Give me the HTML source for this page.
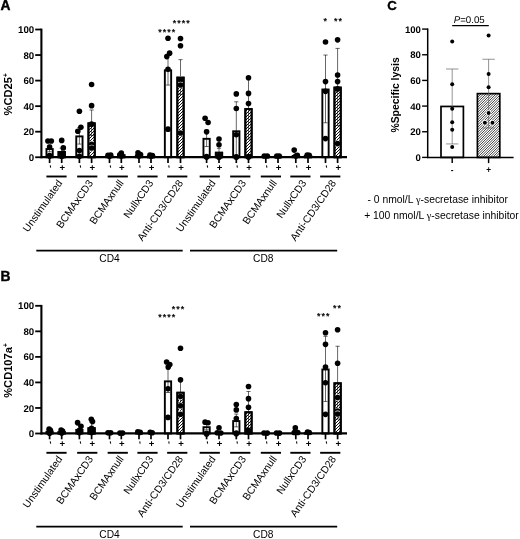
<!DOCTYPE html>
<html lang="en"><head><meta charset="utf-8"><title>Figure</title>
<style>
html,body{margin:0;padding:0;background:#fff}
body{width:520px;height:539px;overflow:hidden}
svg{display:block;font-family:'Liberation Sans', Arial, sans-serif;fill:#000}
.gp{text-rendering:geometricPrecision}
</style></head><body>
<svg width="520" height="539" viewBox="0 0 520 539">
<rect width="520" height="539" fill="#fff"/>
<text x="0.4" y="9.8" font-size="13.8" font-weight="700" stroke="#000" stroke-width="0.4">A</text>
<text transform="translate(11.8,94.3) rotate(-90) scale(0.95,1)" text-anchor="middle" font-size="11.7" font-weight="700">%CD25<tspan dy="-3.9" font-size="7">+</tspan></text>
<rect x="46.45" y="149.04" width="6.3" height="8.21" fill="#fff" stroke="#000" stroke-width="1.9"/>
<path d="M49.6 145.11V151.76M47.5 145.11h4.2M47.5 151.76h4.2" stroke="#000" stroke-width="0.6" fill="none"/>
<circle cx="47.90" cy="141.03" r="2.8"/>
<circle cx="51.30" cy="141.03" r="2.8"/>
<circle cx="49.60" cy="147.03" r="2.8"/>
<circle cx="49.60" cy="155.46" r="2.8"/>
<circle cx="49.60" cy="156.10" r="2.8"/>
<clipPath id="c1"><rect x="58.55" y="151.97" width="6.30" height="5.28"/></clipPath>
<rect x="58.55" y="151.97" width="6.30" height="5.28" fill="#fff"/>
<path clip-path="url(#c1)" d="M57.55 149.45L65.85 141.15M57.55 152.45L65.85 144.15M57.55 155.45L65.85 147.15M57.55 158.45L65.85 150.15M57.55 161.45L65.85 153.15M57.55 164.45L65.85 156.15M57.55 167.45L65.85 159.15" stroke="#000" stroke-width="0.95" fill="none"/>
<rect x="58.55" y="151.97" width="6.3" height="5.28" fill="none" stroke="#000" stroke-width="1.9"/>
<path d="M61.7 148.18V154.57M59.6 148.18h4.2M59.6 154.57h4.2" stroke="#000" stroke-width="0.6" fill="none"/>
<circle cx="61.70" cy="140.39" r="2.8"/>
<circle cx="63.30" cy="147.92" r="2.8"/>
<circle cx="61.70" cy="154.69" r="2.8"/>
<circle cx="61.70" cy="155.97" r="2.8"/>
<circle cx="61.70" cy="156.23" r="2.8"/>
<rect x="58.55" y="151.97" width="6.3" height="5.28" fill="none" stroke="#000" stroke-width="1.9"/>
<rect x="76.25" y="136.39" width="6.3" height="20.86" fill="#fff" stroke="#000" stroke-width="1.9"/>
<path d="M79.4 127.48V144.09M77.30000000000001 127.48h4.2M77.30000000000001 144.09h4.2" stroke="#000" stroke-width="0.6" fill="none"/>
<circle cx="79.40" cy="111.26" r="2.8"/>
<circle cx="80.90" cy="127.36" r="2.8"/>
<circle cx="77.80" cy="131.19" r="2.8"/>
<circle cx="79.40" cy="150.61" r="2.8"/>
<circle cx="79.40" cy="156.23" r="2.8"/>
<clipPath id="c2"><rect x="88.45" y="123.36" width="6.30" height="33.89"/></clipPath>
<rect x="88.45" y="123.36" width="6.30" height="33.89" fill="#fff"/>
<path clip-path="url(#c2)" d="M87.45 119.55L95.75 111.25M87.45 122.55L95.75 114.25M87.45 125.55L95.75 117.25M87.45 128.55L95.75 120.25M87.45 131.55L95.75 123.25M87.45 134.55L95.75 126.25M87.45 137.55L95.75 129.25M87.45 140.55L95.75 132.25M87.45 143.55L95.75 135.25M87.45 146.55L95.75 138.25M87.45 149.55L95.75 141.25M87.45 152.55L95.75 144.25M87.45 155.55L95.75 147.25M87.45 158.55L95.75 150.25M87.45 161.55L95.75 153.25M87.45 164.55L95.75 156.25" stroke="#000" stroke-width="0.95" fill="none"/>
<rect x="88.45" y="123.36" width="6.3" height="33.89" fill="none" stroke="#000" stroke-width="1.9"/>
<path d="M91.6 109.98V135.53M89.5 109.98h4.2M89.5 135.53h4.2" stroke="#000" stroke-width="0.6" fill="none"/>
<circle cx="91.60" cy="84.43" r="2.8"/>
<circle cx="91.60" cy="105.64" r="2.8"/>
<circle cx="91.60" cy="124.16" r="2.8"/>
<circle cx="91.60" cy="144.22" r="2.8" stroke="#fff" stroke-width="1.1" paint-order="stroke"/>
<circle cx="91.60" cy="148.05" r="2.8" stroke="#fff" stroke-width="1.1" paint-order="stroke"/>
<rect x="88.45" y="123.36" width="6.3" height="33.89" fill="none" stroke="#000" stroke-width="1.9"/>
<rect x="106.35" y="156.57" width="6.3" height="0.68" fill="#fff" stroke="#000" stroke-width="1.9"/>
<circle cx="108.00" cy="155.33" r="2.8"/>
<circle cx="110.70" cy="154.95" r="2.8"/>
<circle cx="109.50" cy="156.23" r="2.8"/>
<clipPath id="c3"><rect x="118.15" y="155.29" width="6.30" height="1.96"/></clipPath>
<rect x="118.15" y="155.29" width="6.30" height="1.96" fill="#fff"/>
<path clip-path="url(#c3)" d="M117.15 152.85L125.45 144.55M117.15 155.85L125.45 147.55M117.15 158.85L125.45 150.55M117.15 161.85L125.45 153.55M117.15 164.85L125.45 156.55" stroke="#000" stroke-width="0.95" fill="none"/>
<rect x="118.15" y="155.29" width="6.3" height="1.96" fill="none" stroke="#000" stroke-width="1.9"/>
<circle cx="121.30" cy="153.16" r="2.8"/>
<circle cx="119.80" cy="154.69" r="2.8"/>
<circle cx="121.30" cy="155.97" r="2.8"/>
<rect x="118.15" y="155.29" width="6.3" height="1.96" fill="none" stroke="#000" stroke-width="1.9"/>
<rect x="135.85" y="155.29" width="6.3" height="1.96" fill="#fff" stroke="#000" stroke-width="1.9"/>
<circle cx="138.00" cy="152.78" r="2.8"/>
<circle cx="140.50" cy="154.44" r="2.8"/>
<circle cx="139.00" cy="155.97" r="2.8"/>
<clipPath id="c4"><rect x="147.85" y="156.32" width="6.30" height="0.93"/></clipPath>
<rect x="147.85" y="156.32" width="6.30" height="0.93" fill="#fff"/>
<path clip-path="url(#c4)" d="M146.85 153.15L155.15 144.85M146.85 156.15L155.15 147.85M146.85 159.15L155.15 150.85M146.85 162.15L155.15 153.85M146.85 165.15L155.15 156.85" stroke="#000" stroke-width="0.95" fill="none"/>
<rect x="147.85" y="156.32" width="6.3" height="0.93" fill="none" stroke="#000" stroke-width="1.9"/>
<circle cx="150.00" cy="154.95" r="2.8"/>
<circle cx="152.40" cy="155.46" r="2.8"/>
<circle cx="151.00" cy="156.23" r="2.8"/>
<rect x="147.85" y="156.32" width="6.3" height="0.93" fill="none" stroke="#000" stroke-width="1.9"/>
<rect x="164.85" y="70.34" width="6.3" height="86.91" fill="#fff" stroke="#000" stroke-width="1.9"/>
<path d="M168 54.41V85.07M165.9 54.41h4.2M165.9 85.07h4.2" stroke="#000" stroke-width="0.6" fill="none"/>
<circle cx="168.00" cy="38.19" r="2.8"/>
<circle cx="169.60" cy="53.13" r="2.8"/>
<circle cx="166.80" cy="56.58" r="2.8"/>
<circle cx="168.00" cy="69.36" r="2.8"/>
<circle cx="168.00" cy="129.15" r="2.8"/>
<clipPath id="c5"><rect x="177.35" y="77.62" width="6.30" height="79.63"/></clipPath>
<rect x="177.35" y="77.62" width="6.30" height="79.63" fill="#fff"/>
<path clip-path="url(#c5)" d="M176.35 72.65L184.65 64.35M176.35 75.65L184.65 67.35M176.35 78.65L184.65 70.35M176.35 81.65L184.65 73.35M176.35 84.65L184.65 76.35M176.35 87.65L184.65 79.35M176.35 90.65L184.65 82.35M176.35 93.65L184.65 85.35M176.35 96.65L184.65 88.35M176.35 99.65L184.65 91.35M176.35 102.65L184.65 94.35M176.35 105.65L184.65 97.35M176.35 108.65L184.65 100.35M176.35 111.65L184.65 103.35M176.35 114.65L184.65 106.35M176.35 117.65L184.65 109.35M176.35 120.65L184.65 112.35M176.35 123.65L184.65 115.35M176.35 126.65L184.65 118.35M176.35 129.65L184.65 121.35M176.35 132.65L184.65 124.35M176.35 135.65L184.65 127.35M176.35 138.65L184.65 130.35M176.35 141.65L184.65 133.35M176.35 144.65L184.65 136.35M176.35 147.65L184.65 139.35M176.35 150.65L184.65 142.35M176.35 153.65L184.65 145.35M176.35 156.65L184.65 148.35M176.35 159.65L184.65 151.35M176.35 162.65L184.65 154.35M176.35 165.65L184.65 157.35" stroke="#000" stroke-width="0.95" fill="none"/>
<rect x="177.35" y="77.62" width="6.3" height="79.63" fill="none" stroke="#000" stroke-width="1.9"/>
<path d="M180.5 59.65V94.40M178.4 59.65h4.2M178.4 94.40h4.2" stroke="#000" stroke-width="0.6" fill="none"/>
<circle cx="180.50" cy="38.44" r="2.8"/>
<circle cx="180.50" cy="45.72" r="2.8"/>
<circle cx="180.50" cy="79.96" r="2.8" stroke="#fff" stroke-width="1.1" paint-order="stroke"/>
<circle cx="180.50" cy="85.07" r="2.8" stroke="#fff" stroke-width="1.1" paint-order="stroke"/>
<circle cx="180.50" cy="132.98" r="2.8" stroke="#fff" stroke-width="1.1" paint-order="stroke"/>
<rect x="177.35" y="77.62" width="6.3" height="79.63" fill="none" stroke="#000" stroke-width="1.9"/>
<rect x="203.45" y="138.82" width="6.3" height="18.43" fill="#fff" stroke="#000" stroke-width="1.9"/>
<path d="M206.6 129.91V146.52M204.5 129.91h4.2M204.5 146.52h4.2" stroke="#000" stroke-width="0.6" fill="none"/>
<circle cx="205.10" cy="118.29" r="2.8"/>
<circle cx="208.10" cy="122.50" r="2.8"/>
<circle cx="206.60" cy="131.83" r="2.8"/>
<circle cx="206.60" cy="156.48" r="2.8"/>
<circle cx="206.60" cy="157.12" r="2.8"/>
<clipPath id="c6"><rect x="215.85" y="152.74" width="6.30" height="4.51"/></clipPath>
<rect x="215.85" y="152.74" width="6.30" height="4.51" fill="#fff"/>
<path clip-path="url(#c6)" d="M214.85 148.15L223.15 139.85M214.85 151.15L223.15 142.85M214.85 154.15L223.15 145.85M214.85 157.15L223.15 148.85M214.85 160.15L223.15 151.85M214.85 163.15L223.15 154.85M214.85 166.15L223.15 157.85" stroke="#000" stroke-width="0.95" fill="none"/>
<rect x="215.85" y="152.74" width="6.3" height="4.51" fill="none" stroke="#000" stroke-width="1.9"/>
<path d="M219 148.31V155.97M216.9 148.31h4.2M216.9 155.97h4.2" stroke="#000" stroke-width="0.6" fill="none"/>
<circle cx="219.00" cy="139.11" r="2.8"/>
<circle cx="219.00" cy="144.86" r="2.8"/>
<circle cx="219.00" cy="156.10" r="2.8"/>
<circle cx="219.00" cy="156.74" r="2.8"/>
<circle cx="219.00" cy="157.25" r="2.8"/>
<rect x="215.85" y="152.74" width="6.3" height="4.51" fill="none" stroke="#000" stroke-width="1.9"/>
<rect x="233.15" y="131.28" width="6.3" height="25.97" fill="#fff" stroke="#000" stroke-width="1.9"/>
<path d="M236.3 101.81V157.25M234.20000000000002 101.81h4.2M234.20000000000002 157.25h4.2" stroke="#000" stroke-width="0.6" fill="none"/>
<circle cx="236.30" cy="93.89" r="2.8"/>
<circle cx="236.30" cy="108.45" r="2.8"/>
<circle cx="236.30" cy="134.77" r="2.8"/>
<circle cx="236.30" cy="156.74" r="2.8"/>
<circle cx="236.30" cy="157.25" r="2.8"/>
<clipPath id="c7"><rect x="245.35" y="109.05" width="6.30" height="48.20"/></clipPath>
<rect x="245.35" y="109.05" width="6.30" height="48.20" fill="#fff"/>
<path clip-path="url(#c7)" d="M244.35 106.65L252.65 98.35M244.35 109.65L252.65 101.35M244.35 112.65L252.65 104.35M244.35 115.65L252.65 107.35M244.35 118.65L252.65 110.35M244.35 121.65L252.65 113.35M244.35 124.65L252.65 116.35M244.35 127.65L252.65 119.35M244.35 130.65L252.65 122.35M244.35 133.65L252.65 125.35M244.35 136.65L252.65 128.35M244.35 139.65L252.65 131.35M244.35 142.65L252.65 134.35M244.35 145.65L252.65 137.35M244.35 148.65L252.65 140.35M244.35 151.65L252.65 143.35M244.35 154.65L252.65 146.35M244.35 157.65L252.65 149.35M244.35 160.65L252.65 152.35M244.35 163.65L252.65 155.35M244.35 166.65L252.65 158.35" stroke="#000" stroke-width="0.95" fill="none"/>
<rect x="245.35" y="109.05" width="6.3" height="48.20" fill="none" stroke="#000" stroke-width="1.9"/>
<path d="M248.5 77.79V139.11M246.4 77.79h4.2M246.4 139.11h4.2" stroke="#000" stroke-width="0.6" fill="none"/>
<circle cx="248.50" cy="77.79" r="2.8"/>
<circle cx="248.50" cy="93.38" r="2.8"/>
<circle cx="248.50" cy="103.59" r="2.8"/>
<circle cx="248.50" cy="156.48" r="2.8"/>
<circle cx="248.50" cy="156.99" r="2.8"/>
<rect x="245.35" y="109.05" width="6.3" height="48.20" fill="none" stroke="#000" stroke-width="1.9"/>
<rect x="262.65" y="156.57" width="6.3" height="0.68" fill="#fff" stroke="#000" stroke-width="1.9"/>
<circle cx="264.30" cy="155.97" r="2.8"/>
<circle cx="267.30" cy="155.97" r="2.8"/>
<clipPath id="c8"><rect x="274.85" y="156.57" width="6.30" height="0.68"/></clipPath>
<rect x="274.85" y="156.57" width="6.30" height="0.68" fill="#fff"/>
<path clip-path="url(#c8)" d="M273.85 152.15L282.15 143.85M273.85 155.15L282.15 146.85M273.85 158.15L282.15 149.85M273.85 161.15L282.15 152.85M273.85 164.15L282.15 155.85M273.85 167.15L282.15 158.85" stroke="#000" stroke-width="0.95" fill="none"/>
<rect x="274.85" y="156.57" width="6.3" height="0.68" fill="none" stroke="#000" stroke-width="1.9"/>
<circle cx="276.80" cy="155.97" r="2.8"/>
<circle cx="279.20" cy="155.97" r="2.8"/>
<rect x="274.85" y="156.57" width="6.3" height="0.68" fill="none" stroke="#000" stroke-width="1.9"/>
<rect x="292.65" y="155.93" width="6.3" height="1.32" fill="#fff" stroke="#000" stroke-width="1.9"/>
<circle cx="294.20" cy="150.10" r="2.8"/>
<circle cx="297.30" cy="155.33" r="2.8"/>
<circle cx="295.80" cy="155.97" r="2.8"/>
<clipPath id="c9"><rect x="304.85" y="155.93" width="6.30" height="1.32"/></clipPath>
<rect x="304.85" y="155.93" width="6.30" height="1.32" fill="#fff"/>
<path clip-path="url(#c9)" d="M303.85 152.15L312.15 143.85M303.85 155.15L312.15 146.85M303.85 158.15L312.15 149.85M303.85 161.15L312.15 152.85M303.85 164.15L312.15 155.85M303.85 167.15L312.15 158.85" stroke="#000" stroke-width="0.95" fill="none"/>
<rect x="304.85" y="155.93" width="6.3" height="1.32" fill="none" stroke="#000" stroke-width="1.9"/>
<circle cx="307.20" cy="154.95" r="2.8"/>
<circle cx="309.20" cy="155.33" r="2.8"/>
<rect x="304.85" y="155.93" width="6.3" height="1.32" fill="none" stroke="#000" stroke-width="1.9"/>
<rect x="322.35" y="89.50" width="6.3" height="67.75" fill="#fff" stroke="#000" stroke-width="1.9"/>
<path d="M325.5 55.05V122.76M323.4 55.05h4.2M323.4 122.76h4.2" stroke="#000" stroke-width="0.6" fill="none"/>
<circle cx="325.50" cy="42.02" r="2.8"/>
<circle cx="325.50" cy="81.62" r="2.8"/>
<circle cx="325.50" cy="91.33" r="2.8"/>
<circle cx="325.50" cy="138.60" r="2.8"/>
<clipPath id="c10"><rect x="334.45" y="87.59" width="6.30" height="69.66"/></clipPath>
<rect x="334.45" y="87.59" width="6.30" height="69.66" fill="#fff"/>
<path clip-path="url(#c10)" d="M333.45 83.55L341.75 75.25M333.45 86.55L341.75 78.25M333.45 89.55L341.75 81.25M333.45 92.55L341.75 84.25M333.45 95.55L341.75 87.25M333.45 98.55L341.75 90.25M333.45 101.55L341.75 93.25M333.45 104.55L341.75 96.25M333.45 107.55L341.75 99.25M333.45 110.55L341.75 102.25M333.45 113.55L341.75 105.25M333.45 116.55L341.75 108.25M333.45 119.55L341.75 111.25M333.45 122.55L341.75 114.25M333.45 125.55L341.75 117.25M333.45 128.55L341.75 120.25M333.45 131.55L341.75 123.25M333.45 134.55L341.75 126.25M333.45 137.55L341.75 129.25M333.45 140.55L341.75 132.25M333.45 143.55L341.75 135.25M333.45 146.55L341.75 138.25M333.45 149.55L341.75 141.25M333.45 152.55L341.75 144.25M333.45 155.55L341.75 147.25M333.45 158.55L341.75 150.25M333.45 161.55L341.75 153.25M333.45 164.55L341.75 156.25M333.45 167.55L341.75 159.25" stroke="#000" stroke-width="0.95" fill="none"/>
<rect x="334.45" y="87.59" width="6.3" height="69.66" fill="none" stroke="#000" stroke-width="1.9"/>
<path d="M337.6 48.41V125.57M335.5 48.41h4.2M335.5 125.57h4.2" stroke="#000" stroke-width="0.6" fill="none"/>
<circle cx="337.60" cy="39.85" r="2.8"/>
<circle cx="337.60" cy="74.98" r="2.8"/>
<circle cx="337.60" cy="81.62" r="2.8"/>
<circle cx="337.60" cy="88.90" r="2.8"/>
<circle cx="337.60" cy="143.58" r="2.8" stroke="#fff" stroke-width="1.1" paint-order="stroke"/>
<rect x="334.45" y="87.59" width="6.3" height="69.66" fill="none" stroke="#000" stroke-width="1.9"/>
<path d="M41.4 28.6V158.25" stroke="#000" stroke-width="2.1" fill="none"/>
<path d="M40.6 157.15H347" stroke="#000" stroke-width="2.3" fill="none"/>
<path d="M35.2 157.25h6" stroke="#000" stroke-width="1.8"/>
<text class="gp" x="34.2" y="160.85" text-anchor="end" font-size="9.7" font-weight="700">0</text>
<path d="M35.2 131.70h6" stroke="#000" stroke-width="1.8"/>
<text class="gp" x="34.2" y="135.30" text-anchor="end" font-size="9.7" font-weight="700">20</text>
<path d="M35.2 106.15h6" stroke="#000" stroke-width="1.8"/>
<text class="gp" x="34.2" y="109.75" text-anchor="end" font-size="9.7" font-weight="700">40</text>
<path d="M35.2 80.60h6" stroke="#000" stroke-width="1.8"/>
<text class="gp" x="34.2" y="84.20" text-anchor="end" font-size="9.7" font-weight="700">60</text>
<path d="M35.2 55.05h6" stroke="#000" stroke-width="1.8"/>
<text class="gp" x="34.2" y="58.65" text-anchor="end" font-size="9.7" font-weight="700">80</text>
<path d="M35.2 29.50h6" stroke="#000" stroke-width="1.8"/>
<text class="gp" x="34.2" y="33.10" text-anchor="end" font-size="9.7" font-weight="700">100</text>
<path d="M49.6 157.25v5.8" stroke="#000" stroke-width="1.7"/>
<text transform="translate(52.85,166.05) rotate(-100)" text-anchor="middle" font-size="9" font-weight="700">-</text>
<path d="M61.7 157.25v5.8" stroke="#000" stroke-width="1.7"/>
<text x="62.30" y="170.65" text-anchor="middle" font-size="9.6" font-weight="700">+</text>
<path d="M79.4 157.25v5.8" stroke="#000" stroke-width="1.7"/>
<text transform="translate(82.65,166.05) rotate(-100)" text-anchor="middle" font-size="9" font-weight="700">-</text>
<path d="M91.6 157.25v5.8" stroke="#000" stroke-width="1.7"/>
<text x="92.20" y="170.65" text-anchor="middle" font-size="9.6" font-weight="700">+</text>
<path d="M109.5 157.25v5.8" stroke="#000" stroke-width="1.7"/>
<text transform="translate(112.75,166.05) rotate(-100)" text-anchor="middle" font-size="9" font-weight="700">-</text>
<path d="M121.3 157.25v5.8" stroke="#000" stroke-width="1.7"/>
<text x="121.90" y="170.65" text-anchor="middle" font-size="9.6" font-weight="700">+</text>
<path d="M139 157.25v5.8" stroke="#000" stroke-width="1.7"/>
<text transform="translate(142.25,166.05) rotate(-100)" text-anchor="middle" font-size="9" font-weight="700">-</text>
<path d="M151 157.25v5.8" stroke="#000" stroke-width="1.7"/>
<text x="151.60" y="170.65" text-anchor="middle" font-size="9.6" font-weight="700">+</text>
<path d="M168 157.25v5.8" stroke="#000" stroke-width="1.7"/>
<text transform="translate(171.25,166.05) rotate(-100)" text-anchor="middle" font-size="9" font-weight="700">-</text>
<path d="M180.5 157.25v5.8" stroke="#000" stroke-width="1.7"/>
<text x="181.10" y="170.65" text-anchor="middle" font-size="9.6" font-weight="700">+</text>
<path d="M206.6 157.25v5.8" stroke="#000" stroke-width="1.7"/>
<text transform="translate(209.85,166.05) rotate(-100)" text-anchor="middle" font-size="9" font-weight="700">-</text>
<path d="M219 157.25v5.8" stroke="#000" stroke-width="1.7"/>
<text x="219.60" y="170.65" text-anchor="middle" font-size="9.6" font-weight="700">+</text>
<path d="M236.3 157.25v5.8" stroke="#000" stroke-width="1.7"/>
<text transform="translate(239.55,166.05) rotate(-100)" text-anchor="middle" font-size="9" font-weight="700">-</text>
<path d="M248.5 157.25v5.8" stroke="#000" stroke-width="1.7"/>
<text x="249.10" y="170.65" text-anchor="middle" font-size="9.6" font-weight="700">+</text>
<path d="M265.8 157.25v5.8" stroke="#000" stroke-width="1.7"/>
<text transform="translate(269.05,166.05) rotate(-100)" text-anchor="middle" font-size="9" font-weight="700">-</text>
<path d="M278 157.25v5.8" stroke="#000" stroke-width="1.7"/>
<text x="278.60" y="170.65" text-anchor="middle" font-size="9.6" font-weight="700">+</text>
<path d="M295.8 157.25v5.8" stroke="#000" stroke-width="1.7"/>
<text transform="translate(299.05,166.05) rotate(-100)" text-anchor="middle" font-size="9" font-weight="700">-</text>
<path d="M308 157.25v5.8" stroke="#000" stroke-width="1.7"/>
<text x="308.60" y="170.65" text-anchor="middle" font-size="9.6" font-weight="700">+</text>
<path d="M325.5 157.25v5.8" stroke="#000" stroke-width="1.7"/>
<text transform="translate(328.75,166.05) rotate(-100)" text-anchor="middle" font-size="9" font-weight="700">-</text>
<path d="M337.6 157.25v5.8" stroke="#000" stroke-width="1.7"/>
<text x="338.20" y="170.65" text-anchor="middle" font-size="9.6" font-weight="700">+</text>
<path d="M46.40 176.5h20.2" stroke="#000" stroke-width="1.9"/>
<text transform="translate(62.90,183) rotate(-55)" text-anchor="end" font-size="10.4">Unstimulated</text>
<path d="M77.15 176.5h20.2" stroke="#000" stroke-width="1.9"/>
<text transform="translate(93.65,183) rotate(-55)" text-anchor="end" font-size="10.4">BCMAxCD3</text>
<path d="M107.65 176.5h20.2" stroke="#000" stroke-width="1.9"/>
<text transform="translate(124.15,183) rotate(-55)" text-anchor="end" font-size="10.4">BCMAxnull</text>
<path d="M137.40 176.5h20.2" stroke="#000" stroke-width="1.9"/>
<text transform="translate(153.90,183) rotate(-55)" text-anchor="end" font-size="10.4">NullxCD3</text>
<path d="M167.15 176.5h20.2" stroke="#000" stroke-width="1.9"/>
<text transform="translate(183.65,183) rotate(-55)" text-anchor="end" font-size="10.4">Anti-CD3/CD28</text>
<path d="M199.65 176.5h20.2" stroke="#000" stroke-width="1.9"/>
<text transform="translate(216.15,183) rotate(-55)" text-anchor="end" font-size="10.4">Unstimulated</text>
<path d="M230.15 176.5h20.2" stroke="#000" stroke-width="1.9"/>
<text transform="translate(246.65,183) rotate(-55)" text-anchor="end" font-size="10.4">BCMAxCD3</text>
<path d="M260.80 176.5h20.2" stroke="#000" stroke-width="1.9"/>
<text transform="translate(277.30,183) rotate(-55)" text-anchor="end" font-size="10.4">BCMAxnull</text>
<path d="M290.30 176.5h20.2" stroke="#000" stroke-width="1.9"/>
<text transform="translate(306.80,183) rotate(-55)" text-anchor="end" font-size="10.4">NullxCD3</text>
<path d="M320.15 176.5h20.2" stroke="#000" stroke-width="1.9"/>
<text transform="translate(336.65,183) rotate(-55)" text-anchor="end" font-size="10.4">Anti-CD3/CD28</text>
<path d="M36.3 250.6H182.7M190 250.6H337.2" stroke="#000" stroke-width="1.7"/>
<text x="109.5" y="262.3" text-anchor="middle" font-size="10.2">CD4</text>
<text x="263.3" y="262.3" text-anchor="middle" font-size="10.2">CD8</text>
<text x="167.29999999999998" y="35.3" text-anchor="middle" font-size="9" letter-spacing="1.0" stroke="#000" stroke-width="0.25">****</text>
<text x="181.7" y="25.9" text-anchor="middle" font-size="9" letter-spacing="1.0" stroke="#000" stroke-width="0.25">****</text>
<text x="325.8" y="24.4" text-anchor="middle" font-size="9" letter-spacing="1.0" stroke="#000" stroke-width="0.25">*</text>
<text x="338.5" y="24.4" text-anchor="middle" font-size="9" letter-spacing="1.0" stroke="#000" stroke-width="0.25">**</text>
<text x="0.4" y="280.6" font-size="13.8" font-weight="700" stroke="#000" stroke-width="0.4">B</text>
<text transform="translate(11.8,370.5) rotate(-90) scale(0.95,1)" text-anchor="middle" font-size="11.7" font-weight="700">%CD107a<tspan dy="-3.9" font-size="7">+</tspan></text>
<rect x="46.45" y="431.80" width="6.3" height="1.70" fill="#fff" stroke="#000" stroke-width="1.9"/>
<circle cx="49.10" cy="429.16" r="2.8"/>
<circle cx="50.40" cy="430.18" r="2.8"/>
<circle cx="49.60" cy="431.97" r="2.8"/>
<circle cx="49.60" cy="433.24" r="2.8"/>
<clipPath id="c11"><rect x="58.55" y="432.18" width="6.30" height="1.32"/></clipPath>
<rect x="58.55" y="432.18" width="6.30" height="1.32" fill="#fff"/>
<path clip-path="url(#c11)" d="M57.55 428.45L65.85 420.15M57.55 431.45L65.85 423.15M57.55 434.45L65.85 426.15M57.55 437.45L65.85 429.15M57.55 440.45L65.85 432.15M57.55 443.45L65.85 435.15" stroke="#000" stroke-width="0.95" fill="none"/>
<rect x="58.55" y="432.18" width="6.3" height="1.32" fill="none" stroke="#000" stroke-width="1.9"/>
<circle cx="61.10" cy="430.05" r="2.8"/>
<circle cx="62.50" cy="430.95" r="2.8"/>
<circle cx="61.70" cy="433.12" r="2.8"/>
<rect x="58.55" y="432.18" width="6.3" height="1.32" fill="none" stroke="#000" stroke-width="1.9"/>
<rect x="76.25" y="429.89" width="6.3" height="3.61" fill="#fff" stroke="#000" stroke-width="1.9"/>
<path d="M79.4 425.45V433.12M77.30000000000001 425.45h4.2M77.30000000000001 433.12h4.2" stroke="#000" stroke-width="0.6" fill="none"/>
<circle cx="77.60" cy="422.65" r="2.8"/>
<circle cx="81.00" cy="426.35" r="2.8"/>
<circle cx="79.40" cy="430.31" r="2.8"/>
<circle cx="79.40" cy="432.22" r="2.8"/>
<circle cx="79.40" cy="432.86" r="2.8"/>
<clipPath id="c12"><rect x="88.45" y="428.23" width="6.30" height="5.27"/></clipPath>
<rect x="88.45" y="428.23" width="6.30" height="5.27" fill="#fff"/>
<path clip-path="url(#c12)" d="M87.45 425.55L95.75 417.25M87.45 428.55L95.75 420.25M87.45 431.55L95.75 423.25M87.45 434.55L95.75 426.25M87.45 437.55L95.75 429.25M87.45 440.55L95.75 432.25M87.45 443.55L95.75 435.25" stroke="#000" stroke-width="0.95" fill="none"/>
<rect x="88.45" y="428.23" width="6.3" height="5.27" fill="none" stroke="#000" stroke-width="1.9"/>
<path d="M91.6 422.52V432.73M89.5 422.52h4.2M89.5 432.73h4.2" stroke="#000" stroke-width="0.6" fill="none"/>
<circle cx="91.30" cy="419.20" r="2.8"/>
<circle cx="92.50" cy="421.62" r="2.8"/>
<circle cx="91.60" cy="428.39" r="2.8"/>
<circle cx="91.60" cy="430.31" r="2.8"/>
<circle cx="91.60" cy="432.48" r="2.8"/>
<rect x="88.45" y="428.23" width="6.3" height="5.27" fill="none" stroke="#000" stroke-width="1.9"/>
<circle cx="108.00" cy="432.86" r="2.8"/>
<circle cx="110.70" cy="432.86" r="2.8"/>
<circle cx="119.90" cy="433.12" r="2.8"/>
<circle cx="122.60" cy="433.12" r="2.8"/>
<rect x="135.85" y="432.95" width="6.3" height="0.55" fill="#fff" stroke="#000" stroke-width="1.9"/>
<circle cx="137.80" cy="431.84" r="2.8"/>
<circle cx="140.20" cy="432.35" r="2.8"/>
<circle cx="150.20" cy="432.22" r="2.8"/>
<circle cx="152.20" cy="432.73" r="2.8"/>
<rect x="164.85" y="381.36" width="6.3" height="52.14" fill="#fff" stroke="#000" stroke-width="1.9"/>
<path d="M168 369.01V392.51M165.9 369.01h4.2M165.9 392.51h4.2" stroke="#000" stroke-width="0.6" fill="none"/>
<circle cx="166.60" cy="361.99" r="2.8"/>
<circle cx="169.80" cy="364.54" r="2.8"/>
<circle cx="168.20" cy="367.10" r="2.8"/>
<circle cx="168.00" cy="388.68" r="2.8"/>
<circle cx="168.00" cy="417.41" r="2.8"/>
<clipPath id="c13"><rect x="177.35" y="392.73" width="6.30" height="40.77"/></clipPath>
<rect x="177.35" y="392.73" width="6.30" height="40.77" fill="#fff"/>
<path clip-path="url(#c13)" d="M176.35 390.65L184.65 382.35M176.35 393.65L184.65 385.35M176.35 396.65L184.65 388.35M176.35 399.65L184.65 391.35M176.35 402.65L184.65 394.35M176.35 405.65L184.65 397.35M176.35 408.65L184.65 400.35M176.35 411.65L184.65 403.35M176.35 414.65L184.65 406.35M176.35 417.65L184.65 409.35M176.35 420.65L184.65 412.35M176.35 423.65L184.65 415.35M176.35 426.65L184.65 418.35M176.35 429.65L184.65 421.35M176.35 432.65L184.65 424.35M176.35 435.65L184.65 427.35M176.35 438.65L184.65 430.35M176.35 441.65L184.65 433.35" stroke="#000" stroke-width="0.95" fill="none"/>
<rect x="177.35" y="392.73" width="6.3" height="40.77" fill="none" stroke="#000" stroke-width="1.9"/>
<path d="M180.5 381.27V402.98M178.4 381.27h4.2M178.4 402.98h4.2" stroke="#000" stroke-width="0.6" fill="none"/>
<circle cx="180.50" cy="348.32" r="2.8"/>
<circle cx="180.50" cy="379.87" r="2.8"/>
<circle cx="180.50" cy="396.59" r="2.8" stroke="#fff" stroke-width="1.1" paint-order="stroke"/>
<circle cx="180.50" cy="405.79" r="2.8" stroke="#fff" stroke-width="1.1" paint-order="stroke"/>
<circle cx="180.50" cy="414.22" r="2.8" stroke="#fff" stroke-width="1.1" paint-order="stroke"/>
<rect x="177.35" y="392.73" width="6.3" height="40.77" fill="none" stroke="#000" stroke-width="1.9"/>
<rect x="203.45" y="427.20" width="6.3" height="6.30" fill="#fff" stroke="#000" stroke-width="1.9"/>
<path d="M206.6 423.41V429.80M204.5 423.41h4.2M204.5 429.80h4.2" stroke="#000" stroke-width="0.6" fill="none"/>
<circle cx="205.10" cy="422.13" r="2.8"/>
<circle cx="208.00" cy="422.77" r="2.8"/>
<circle cx="206.60" cy="433.24" r="2.8"/>
<circle cx="206.60" cy="434.01" r="2.8"/>
<clipPath id="c14"><rect x="215.85" y="432.06" width="6.30" height="1.44"/></clipPath>
<rect x="215.85" y="432.06" width="6.30" height="1.44" fill="#fff"/>
<path clip-path="url(#c14)" d="M214.85 427.15L223.15 418.85M214.85 430.15L223.15 421.85M214.85 433.15L223.15 424.85M214.85 436.15L223.15 427.85M214.85 439.15L223.15 430.85M214.85 442.15L223.15 433.85" stroke="#000" stroke-width="0.95" fill="none"/>
<rect x="215.85" y="432.06" width="6.3" height="1.44" fill="none" stroke="#000" stroke-width="1.9"/>
<circle cx="219.00" cy="427.75" r="2.8"/>
<circle cx="217.30" cy="432.73" r="2.8"/>
<circle cx="220.70" cy="432.99" r="2.8"/>
<rect x="215.85" y="432.06" width="6.3" height="1.44" fill="none" stroke="#000" stroke-width="1.9"/>
<rect x="233.15" y="421.07" width="6.3" height="12.43" fill="#fff" stroke="#000" stroke-width="1.9"/>
<path d="M236.3 414.09V426.86M234.20000000000002 414.09h4.2M234.20000000000002 426.86h4.2" stroke="#000" stroke-width="0.6" fill="none"/>
<circle cx="236.30" cy="404.51" r="2.8"/>
<circle cx="236.30" cy="409.88" r="2.8"/>
<circle cx="236.30" cy="418.43" r="2.8"/>
<circle cx="236.30" cy="433.12" r="2.8"/>
<circle cx="236.30" cy="433.76" r="2.8"/>
<clipPath id="c15"><rect x="245.35" y="412.26" width="6.30" height="21.24"/></clipPath>
<rect x="245.35" y="412.26" width="6.30" height="21.24" fill="#fff"/>
<path clip-path="url(#c15)" d="M244.35 409.65L252.65 401.35M244.35 412.65L252.65 404.35M244.35 415.65L252.65 407.35M244.35 418.65L252.65 410.35M244.35 421.65L252.65 413.35M244.35 424.65L252.65 416.35M244.35 427.65L252.65 419.35M244.35 430.65L252.65 422.35M244.35 433.65L252.65 425.35M244.35 436.65L252.65 428.35M244.35 439.65L252.65 431.35M244.35 442.65L252.65 434.35" stroke="#000" stroke-width="0.95" fill="none"/>
<rect x="245.35" y="412.26" width="6.3" height="21.24" fill="none" stroke="#000" stroke-width="1.9"/>
<path d="M248.5 391.49V431.84M246.4 391.49h4.2M246.4 431.84h4.2" stroke="#000" stroke-width="0.6" fill="none"/>
<circle cx="248.50" cy="386.51" r="2.8"/>
<circle cx="248.50" cy="398.64" r="2.8"/>
<circle cx="248.50" cy="407.32" r="2.8"/>
<circle cx="248.50" cy="430.31" r="2.8"/>
<circle cx="248.50" cy="431.97" r="2.8"/>
<rect x="245.35" y="412.26" width="6.3" height="21.24" fill="none" stroke="#000" stroke-width="1.9"/>
<circle cx="264.00" cy="432.99" r="2.8"/>
<circle cx="267.30" cy="433.12" r="2.8"/>
<circle cx="276.50" cy="432.99" r="2.8"/>
<circle cx="279.50" cy="433.12" r="2.8"/>
<rect x="292.65" y="432.57" width="6.3" height="0.93" fill="#fff" stroke="#000" stroke-width="1.9"/>
<circle cx="295.30" cy="427.88" r="2.8"/>
<circle cx="294.30" cy="432.48" r="2.8"/>
<circle cx="297.80" cy="432.48" r="2.8"/>
<clipPath id="c16"><rect x="304.85" y="432.95" width="6.30" height="0.55"/></clipPath>
<rect x="304.85" y="432.95" width="6.30" height="0.55" fill="#fff"/>
<path clip-path="url(#c16)" d="M303.85 428.15L312.15 419.85M303.85 431.15L312.15 422.85M303.85 434.15L312.15 425.85M303.85 437.15L312.15 428.85M303.85 440.15L312.15 431.85M303.85 443.15L312.15 434.85" stroke="#000" stroke-width="0.95" fill="none"/>
<rect x="304.85" y="432.95" width="6.3" height="0.55" fill="none" stroke="#000" stroke-width="1.9"/>
<circle cx="307.50" cy="431.97" r="2.8"/>
<circle cx="309.20" cy="432.48" r="2.8"/>
<rect x="304.85" y="432.95" width="6.3" height="0.55" fill="none" stroke="#000" stroke-width="1.9"/>
<rect x="322.35" y="369.48" width="6.3" height="64.02" fill="#fff" stroke="#000" stroke-width="1.9"/>
<path d="M325.5 336.32V401.45M323.4 336.32h4.2M323.4 401.45h4.2" stroke="#000" stroke-width="0.6" fill="none"/>
<circle cx="325.50" cy="332.74" r="2.8"/>
<circle cx="325.50" cy="344.37" r="2.8"/>
<circle cx="325.50" cy="367.10" r="2.8"/>
<circle cx="325.50" cy="382.68" r="2.8"/>
<circle cx="325.50" cy="414.35" r="2.8"/>
<clipPath id="c17"><rect x="334.45" y="383.28" width="6.30" height="50.22"/></clipPath>
<rect x="334.45" y="383.28" width="6.30" height="50.22" fill="#fff"/>
<path clip-path="url(#c17)" d="M333.45 380.55L341.75 372.25M333.45 383.55L341.75 375.25M333.45 386.55L341.75 378.25M333.45 389.55L341.75 381.25M333.45 392.55L341.75 384.25M333.45 395.55L341.75 387.25M333.45 398.55L341.75 390.25M333.45 401.55L341.75 393.25M333.45 404.55L341.75 396.25M333.45 407.55L341.75 399.25M333.45 410.55L341.75 402.25M333.45 413.55L341.75 405.25M333.45 416.55L341.75 408.25M333.45 419.55L341.75 411.25M333.45 422.55L341.75 414.25M333.45 425.55L341.75 417.25M333.45 428.55L341.75 420.25M333.45 431.55L341.75 423.25M333.45 434.55L341.75 426.25M333.45 437.55L341.75 429.25M333.45 440.55L341.75 432.25M333.45 443.55L341.75 435.25" stroke="#000" stroke-width="0.95" fill="none"/>
<rect x="334.45" y="383.28" width="6.3" height="50.22" fill="none" stroke="#000" stroke-width="1.9"/>
<path d="M337.6 346.28V419.07M335.5 346.28h4.2M335.5 419.07h4.2" stroke="#000" stroke-width="0.6" fill="none"/>
<circle cx="337.60" cy="329.81" r="2.8"/>
<circle cx="337.60" cy="363.26" r="2.8"/>
<circle cx="337.60" cy="397.49" r="2.8" stroke="#fff" stroke-width="1.1" paint-order="stroke"/>
<circle cx="337.60" cy="411.15" r="2.8" stroke="#fff" stroke-width="1.1" paint-order="stroke"/>
<circle cx="337.60" cy="413.96" r="2.8" stroke="#fff" stroke-width="1.1" paint-order="stroke"/>
<rect x="334.45" y="383.28" width="6.3" height="50.22" fill="none" stroke="#000" stroke-width="1.9"/>
<path d="M41.4 304.90000000000003V434.5" stroke="#000" stroke-width="2.1" fill="none"/>
<path d="M40.6 433.4H347" stroke="#000" stroke-width="2.3" fill="none"/>
<path d="M35.2 433.50h6" stroke="#000" stroke-width="1.8"/>
<text class="gp" x="34.2" y="437.10" text-anchor="end" font-size="9.7" font-weight="700">0</text>
<path d="M35.2 407.96h6" stroke="#000" stroke-width="1.8"/>
<text class="gp" x="34.2" y="411.56" text-anchor="end" font-size="9.7" font-weight="700">20</text>
<path d="M35.2 382.42h6" stroke="#000" stroke-width="1.8"/>
<text class="gp" x="34.2" y="386.02" text-anchor="end" font-size="9.7" font-weight="700">40</text>
<path d="M35.2 356.88h6" stroke="#000" stroke-width="1.8"/>
<text class="gp" x="34.2" y="360.48" text-anchor="end" font-size="9.7" font-weight="700">60</text>
<path d="M35.2 331.34h6" stroke="#000" stroke-width="1.8"/>
<text class="gp" x="34.2" y="334.94" text-anchor="end" font-size="9.7" font-weight="700">80</text>
<path d="M35.2 305.80h6" stroke="#000" stroke-width="1.8"/>
<text class="gp" x="34.2" y="309.40" text-anchor="end" font-size="9.7" font-weight="700">100</text>
<path d="M49.6 433.5v5.8" stroke="#000" stroke-width="1.7"/>
<text transform="translate(52.85,442.05) rotate(-100)" text-anchor="middle" font-size="9" font-weight="700">-</text>
<path d="M61.7 433.5v5.8" stroke="#000" stroke-width="1.7"/>
<text x="62.30" y="446.65" text-anchor="middle" font-size="9.6" font-weight="700">+</text>
<path d="M79.4 433.5v5.8" stroke="#000" stroke-width="1.7"/>
<text transform="translate(82.65,442.05) rotate(-100)" text-anchor="middle" font-size="9" font-weight="700">-</text>
<path d="M91.6 433.5v5.8" stroke="#000" stroke-width="1.7"/>
<text x="92.20" y="446.65" text-anchor="middle" font-size="9.6" font-weight="700">+</text>
<path d="M109.5 433.5v5.8" stroke="#000" stroke-width="1.7"/>
<text transform="translate(112.75,442.05) rotate(-100)" text-anchor="middle" font-size="9" font-weight="700">-</text>
<path d="M121.3 433.5v5.8" stroke="#000" stroke-width="1.7"/>
<text x="121.90" y="446.65" text-anchor="middle" font-size="9.6" font-weight="700">+</text>
<path d="M139 433.5v5.8" stroke="#000" stroke-width="1.7"/>
<text transform="translate(142.25,442.05) rotate(-100)" text-anchor="middle" font-size="9" font-weight="700">-</text>
<path d="M151 433.5v5.8" stroke="#000" stroke-width="1.7"/>
<text x="151.60" y="446.65" text-anchor="middle" font-size="9.6" font-weight="700">+</text>
<path d="M168 433.5v5.8" stroke="#000" stroke-width="1.7"/>
<text transform="translate(171.25,442.05) rotate(-100)" text-anchor="middle" font-size="9" font-weight="700">-</text>
<path d="M180.5 433.5v5.8" stroke="#000" stroke-width="1.7"/>
<text x="181.10" y="446.65" text-anchor="middle" font-size="9.6" font-weight="700">+</text>
<path d="M206.6 433.5v5.8" stroke="#000" stroke-width="1.7"/>
<text transform="translate(209.85,442.05) rotate(-100)" text-anchor="middle" font-size="9" font-weight="700">-</text>
<path d="M219 433.5v5.8" stroke="#000" stroke-width="1.7"/>
<text x="219.60" y="446.65" text-anchor="middle" font-size="9.6" font-weight="700">+</text>
<path d="M236.3 433.5v5.8" stroke="#000" stroke-width="1.7"/>
<text transform="translate(239.55,442.05) rotate(-100)" text-anchor="middle" font-size="9" font-weight="700">-</text>
<path d="M248.5 433.5v5.8" stroke="#000" stroke-width="1.7"/>
<text x="249.10" y="446.65" text-anchor="middle" font-size="9.6" font-weight="700">+</text>
<path d="M265.8 433.5v5.8" stroke="#000" stroke-width="1.7"/>
<text transform="translate(269.05,442.05) rotate(-100)" text-anchor="middle" font-size="9" font-weight="700">-</text>
<path d="M278 433.5v5.8" stroke="#000" stroke-width="1.7"/>
<text x="278.60" y="446.65" text-anchor="middle" font-size="9.6" font-weight="700">+</text>
<path d="M295.8 433.5v5.8" stroke="#000" stroke-width="1.7"/>
<text transform="translate(299.05,442.05) rotate(-100)" text-anchor="middle" font-size="9" font-weight="700">-</text>
<path d="M308 433.5v5.8" stroke="#000" stroke-width="1.7"/>
<text x="308.60" y="446.65" text-anchor="middle" font-size="9.6" font-weight="700">+</text>
<path d="M325.5 433.5v5.8" stroke="#000" stroke-width="1.7"/>
<text transform="translate(328.75,442.05) rotate(-100)" text-anchor="middle" font-size="9" font-weight="700">-</text>
<path d="M337.6 433.5v5.8" stroke="#000" stroke-width="1.7"/>
<text x="338.20" y="446.65" text-anchor="middle" font-size="9.6" font-weight="700">+</text>
<path d="M46.40 452.8h20.2" stroke="#000" stroke-width="1.9"/>
<text transform="translate(62.90,459) rotate(-55)" text-anchor="end" font-size="10.4">Unstimulated</text>
<path d="M77.15 452.8h20.2" stroke="#000" stroke-width="1.9"/>
<text transform="translate(93.65,459) rotate(-55)" text-anchor="end" font-size="10.4">BCMAxCD3</text>
<path d="M107.65 452.8h20.2" stroke="#000" stroke-width="1.9"/>
<text transform="translate(124.15,459) rotate(-55)" text-anchor="end" font-size="10.4">BCMAxnull</text>
<path d="M137.40 452.8h20.2" stroke="#000" stroke-width="1.9"/>
<text transform="translate(153.90,459) rotate(-55)" text-anchor="end" font-size="10.4">NullxCD3</text>
<path d="M167.15 452.8h20.2" stroke="#000" stroke-width="1.9"/>
<text transform="translate(183.65,459) rotate(-55)" text-anchor="end" font-size="10.4">Anti-CD3/CD28</text>
<path d="M199.65 452.8h20.2" stroke="#000" stroke-width="1.9"/>
<text transform="translate(216.15,459) rotate(-55)" text-anchor="end" font-size="10.4">Unstimulated</text>
<path d="M230.15 452.8h20.2" stroke="#000" stroke-width="1.9"/>
<text transform="translate(246.65,459) rotate(-55)" text-anchor="end" font-size="10.4">BCMAxCD3</text>
<path d="M260.80 452.8h20.2" stroke="#000" stroke-width="1.9"/>
<text transform="translate(277.30,459) rotate(-55)" text-anchor="end" font-size="10.4">BCMAxnull</text>
<path d="M290.30 452.8h20.2" stroke="#000" stroke-width="1.9"/>
<text transform="translate(306.80,459) rotate(-55)" text-anchor="end" font-size="10.4">NullxCD3</text>
<path d="M320.15 452.8h20.2" stroke="#000" stroke-width="1.9"/>
<text transform="translate(336.65,459) rotate(-55)" text-anchor="end" font-size="10.4">Anti-CD3/CD28</text>
<path d="M36.3 526.7H182.7M190 526.7H337.2" stroke="#000" stroke-width="1.7"/>
<text x="109.5" y="538.3" text-anchor="middle" font-size="10.2">CD4</text>
<text x="263.3" y="538.3" text-anchor="middle" font-size="10.2">CD8</text>
<text x="167.29999999999998" y="319.7" text-anchor="middle" font-size="9" letter-spacing="1.0" stroke="#000" stroke-width="0.25">****</text>
<text x="178.5" y="311.5" text-anchor="middle" font-size="9" letter-spacing="1.0" stroke="#000" stroke-width="0.25">***</text>
<text x="323.8" y="319.3" text-anchor="middle" font-size="9" letter-spacing="1.0" stroke="#000" stroke-width="0.25">***</text>
<text x="337.6" y="310.8" text-anchor="middle" font-size="9" letter-spacing="1.0" stroke="#000" stroke-width="0.25">**</text>
<text x="387.3" y="9.7" font-size="13.3" font-weight="700" stroke="#000" stroke-width="0.35">C</text>
<text transform="translate(399.3,94.9) rotate(-90)" text-anchor="middle" font-size="10.45" font-weight="700">%Specific lysis</text>
<rect x="441.0" y="106.46" width="22.4" height="50.94" fill="#fff" stroke="#000" stroke-width="1.7"/>
<path d="M452.2 69.00V143.93M446.0 69.00h12.4M446.0 143.93h12.4" stroke="#666" stroke-width="0.7" fill="none"/>
<circle cx="452.20" cy="41.42" r="2"/>
<circle cx="452.20" cy="84.27" r="2"/>
<circle cx="452.20" cy="108.65" r="2"/>
<circle cx="452.20" cy="122.37" r="2"/>
<circle cx="452.20" cy="129.69" r="2"/>
<circle cx="452.20" cy="146.88" r="2"/>
<clipPath id="c18"><rect x="477.40" y="93.63" width="22.40" height="63.77"/></clipPath>
<rect x="477.40" y="93.63" width="22.40" height="63.77" fill="#fff"/>
<path clip-path="url(#c18)" d="M476.40 91.10L500.80 66.70M476.40 93.60L500.80 69.20M476.40 96.10L500.80 71.70M476.40 98.60L500.80 74.20M476.40 101.10L500.80 76.70M476.40 103.60L500.80 79.20M476.40 106.10L500.80 81.70M476.40 108.60L500.80 84.20M476.40 111.10L500.80 86.70M476.40 113.60L500.80 89.20M476.40 116.10L500.80 91.70M476.40 118.60L500.80 94.20M476.40 121.10L500.80 96.70M476.40 123.60L500.80 99.20M476.40 126.10L500.80 101.70M476.40 128.60L500.80 104.20M476.40 131.10L500.80 106.70M476.40 133.60L500.80 109.20M476.40 136.10L500.80 111.70M476.40 138.60L500.80 114.20M476.40 141.10L500.80 116.70M476.40 143.60L500.80 119.20M476.40 146.10L500.80 121.70M476.40 148.60L500.80 124.20M476.40 151.10L500.80 126.70M476.40 153.60L500.80 129.20M476.40 156.10L500.80 131.70M476.40 158.60L500.80 134.20M476.40 161.10L500.80 136.70M476.40 163.60L500.80 139.20M476.40 166.10L500.80 141.70M476.40 168.60L500.80 144.20M476.40 171.10L500.80 146.70M476.40 173.60L500.80 149.20M476.40 176.10L500.80 151.70M476.40 178.60L500.80 154.20M476.40 181.10L500.80 156.70" stroke="#000" stroke-width="0.72" fill="none"/>
<rect x="477.40000000000003" y="93.63" width="22.4" height="63.77" fill="none" stroke="#000" stroke-width="1.7"/>
<path d="M488.6 59.25V128.02M482.40000000000003 59.25h12.4M482.40000000000003 128.02h12.4" stroke="#666" stroke-width="0.7" fill="none"/>
<circle cx="488.60" cy="35.51" r="2"/>
<circle cx="488.60" cy="74.00" r="2"/>
<circle cx="488.60" cy="87.35" r="2"/>
<circle cx="488.60" cy="112.88" r="2" stroke="#fff" stroke-width="1.4" paint-order="stroke"/>
<circle cx="484.90" cy="122.76" r="2" stroke="#fff" stroke-width="1.4" paint-order="stroke"/>
<circle cx="492.50" cy="122.76" r="2" stroke="#fff" stroke-width="1.4" paint-order="stroke"/>
<path d="M427.7 28.400000000000002V158.1" stroke="#000" stroke-width="1.5"/>
<path d="M427 157.4H513.6" stroke="#000" stroke-width="1.5"/>
<path d="M422.1 157.40h5.6" stroke="#000" stroke-width="1.4"/>
<text class="gp" x="420.9" y="161.00" text-anchor="end" font-size="9.6" font-weight="700">0</text>
<path d="M422.1 131.74h5.6" stroke="#000" stroke-width="1.4"/>
<text class="gp" x="420.9" y="135.34" text-anchor="end" font-size="9.6" font-weight="700">20</text>
<path d="M422.1 106.08h5.6" stroke="#000" stroke-width="1.4"/>
<text class="gp" x="420.9" y="109.68" text-anchor="end" font-size="9.6" font-weight="700">40</text>
<path d="M422.1 80.42h5.6" stroke="#000" stroke-width="1.4"/>
<text class="gp" x="420.9" y="84.02" text-anchor="end" font-size="9.6" font-weight="700">60</text>
<path d="M422.1 54.76h5.6" stroke="#000" stroke-width="1.4"/>
<text class="gp" x="420.9" y="58.36" text-anchor="end" font-size="9.6" font-weight="700">80</text>
<path d="M422.1 29.10h5.6" stroke="#000" stroke-width="1.4"/>
<text class="gp" x="420.9" y="32.70" text-anchor="end" font-size="9.6" font-weight="700">100</text>
<path d="M452.2 157.4v5.7" stroke="#000" stroke-width="1.45"/>
<text x="452.2" y="172.9" text-anchor="middle" font-size="8.3" font-weight="700">-</text>
<path d="M488.6 157.4v5.7" stroke="#000" stroke-width="1.45"/>
<text x="488.6" y="172.9" text-anchor="middle" font-size="8.3" font-weight="700">+</text>
<path d="M452.2 25.6H488.8" stroke="#000" stroke-width="1.25"/>
<text class="gp" x="469.2" y="22.9" text-anchor="middle" font-size="9.7"><tspan font-style="italic">P</tspan>=0.05</text>
<text x="367.5" y="203.2" font-size="10.35">- 0 nmol/L <tspan font-family="'Liberation Serif', serif">γ</tspan>-secretase inhibitor</text>
<text x="364.2" y="219.3" font-size="10.35">+ 100 nmol/L <tspan font-family="'Liberation Serif', serif">γ</tspan>-secretase inhibitor</text>
</svg>
</body></html>
